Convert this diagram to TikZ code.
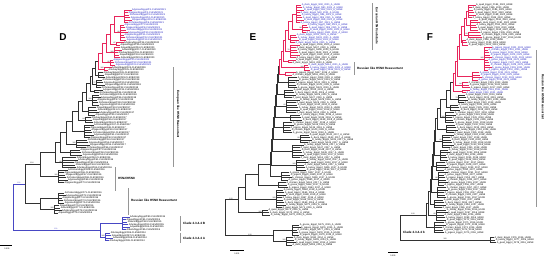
\documentclass[tikz,border=0pt]{standalone}
\usepackage{fontspec}
\setmainfont{Liberation Sans}
\usetikzlibrary{positioning}

\definecolor{redbr}{RGB}{232,38,92}
\definecolor{bluetx}{RGB}{30,30,190}
\definecolor{bluebr}{RGB}{72,72,196}
\definecolor{bargrey}{RGB}{150,150,150}
\definecolor{treegrey}{RGB}{50,50,50}

\tikzset{
  br/.style={line width=0.3pt},
  leaf/.style={anchor=west,inner sep=0.4pt,font=\fontsize{2.4}{2.6}\selectfont},
  boot/.style={inner sep=0.2pt,font=\fontsize{1.8}{2}\selectfont},
  bar/.style={draw=bargrey,line width=0.5pt},
  grp/.style={anchor=west,inner sep=1pt,font=\fontsize{3.1}{3.5}\selectfont\bfseries},
  rotgrp/.style={rotate=-90,inner sep=1pt,font=\fontsize{3.1}{3.5}\selectfont\bfseries},
  panel/.style={font=\fontsize{10}{12}\selectfont\bfseries},
  scalebar/.style={font=\fontsize{2}{2.2}\selectfont,inner sep=0.3pt},
}

% leaves of one clade, stacked from \cladetop
\newcount\leafno
\def\leafdy{2.5}
\newcommand\leaftext{}
\newcommand\startat[1]{\xdef\cladetop{#1}}
\newcommand\clade[6]{%
  \def\leafyr{#6}%
  \pgfmathsetmacro\ctop{\cladetop}%
  \pgfmathsetmacro\cbot{\cladetop+(#1-1)*\leafdy}%
  \foreach \i in {1,...,#1}{%
    \global\advance\leafno by 1
    \pgfmathsetmacro\leafy{\cladetop+(\i-1)*\leafdy}%
    \pgfmathsetmacro\tipx{#3+mod(\i*5+#1,4)*1.2}%
    \pgfmathparse{{"chicken","duck","goose","turkey","pigeon","quail"}[mod(\i+\the\leafno,6)]}%
    \let\leafhost\pgfmathresult
    \draw[br,#4] (#2,\leafy) -- (\tipx,\leafy) node[leaf,text=#5] (l\the\leafno) {\leaftext};
  }%
  \draw[br,#4] (#2,\ctop) -- (#2,\cbot);
  \pgfmathsetmacro\cladey{(\ctop+\cbot)/2}\xdef\cladey{\cladey}%
  \xdef\cladex{#2}%
  \pgfmathsetmacro\cladetop{\cbot+\leafdy}\xdef\cladetop{\cladetop}%
}
% backbone
\newcommand\firstnode{\xdef\nodex{\cladex}\xdef\nodey{\cladey}}
\newcommand\bb[3]{%
  \draw[br,#2] (\nodex,\nodey) -| (#1,\cladey) -- (\cladex,\cladey);
  \node[boot,above left] at (\cladex,\cladey) {#3};
  \pgfmathsetmacro\nodey{(\nodey+\cladey)/2}\xdef\nodey{\nodey}%
  \xdef\nodex{#1}%
}

\begin{document}
\begin{tikzpicture}[x=1pt,y=-1pt]
\useasboundingbox (0,0) rectangle (550,258);

% ---------- D
\node[panel] (D) at (63,37) {D};
\renewcommand\leaftext{A/\leafhost/Egypt/F\the\leafno-CLEVB/\leafyr}
\startat{10}
\clade{6}{124}{128}{redbr}{bluetx}{2021}\firstnode
\clade{7}{120}{124}{redbr}{bluetx}{2021}\bb{114}{redbr}{99}
\clade{2}{116}{120}{redbr}{black}{2020}\bb{110}{redbr}{87}
\clade{5}{114}{118}{redbr}{black}{2020}\bb{106}{redbr}{100}
\clade{3}{110}{113}{redbr}{bluetx}{2021}\bb{102}{redbr}{95}
\clade{2}{104}{108}{redbr}{black}{2019}\bb{98}{redbr}{100}
\clade{3}{98}{103}{treegrey}{black}{2019}\bb{95}{treegrey}{}
\clade{4}{96}{101}{treegrey}{black}{2018}\bb{92}{treegrey}{77}
\clade{2}{94}{99}{treegrey}{black}{2018}\bb{90}{treegrey}{}
\clade{5}{92}{97}{treegrey}{black}{2018}\bb{86}{treegrey}{100}
\clade{4}{88}{95}{treegrey}{black}{2017}\bb{82}{treegrey}{}
\clade{3}{85}{91}{treegrey}{black}{2017}\bb{78}{treegrey}{64}
\clade{6}{84}{90}{treegrey}{black}{2017}\bb{72}{treegrey}{}
\clade{4}{76}{86}{treegrey}{black}{2017}\bb{66}{treegrey}{100}
\clade{3}{70}{80}{treegrey}{black}{2016}\bb{60}{treegrey}{}
\clade{5}{62}{74}{treegrey}{black}{2016}\bb{55}{treegrey}{89}
\clade{6}{58}{64}{treegrey}{black}{2016}\bb{40}{treegrey}{100}
\xdef\mainy{\nodey}
\startat{193}
\clade{5}{58}{62}{treegrey}{black}{2016}\firstnode
\clade{4}{54}{58}{treegrey}{black}{2016}\bb{40}{treegrey}{100}
\draw[br,treegrey] (40,\mainy) -| (25,\nodey) -- (40,\nodey);
\pgfmathsetmacro\upy{(\mainy+\nodey)/2}
\node[boot,above] at (32,\mainy) {100};
\startat{217}
\clade{6}{122}{126}{bluebr}{black}{2015}\firstnode
\startat{233}
\clade{4}{105}{109}{bluebr}{black}{2014}\bb{100}{bluebr}{100}
\draw[br,bluebr] (25,\upy) -| (13,\nodey) -- (100,\nodey);
\node[boot,above,text=bluebr] at (19,\upy) {100};
\node[boot,above,text=bluebr] at (56,\nodey) {100};

\draw[bar] (115,167) -- (115,191);
\node[grp] (dmix) at (117,178) {H5N2/H5N8};
\draw[bar] (128,188) -- (128,215);
\node[grp] (drus) at (130,200) {Russian like H5N8 Reassortant};
\draw[bar] (173,67) -- (173,167);
\node[rotgrp] (deur) at (178,114) {European like H5N8 Reassortant};
\draw[bar] (180,216) -- (180,231);
\node[grp] (dcb) at (182,223) {Clade 2.3.4.4 B};
\draw[bar] (180,233) -- (180,243);
\node[grp] (dca) at (182,238) {Clade 2.3.4.4 A};
\draw[br] (0,245) -- (12,245);
\node[scalebar] (dsc) at (7,249) {0.005};

% ---------- E
\node[panel] (E) at (253,37) {E};
\renewcommand\leaftext{A\_\leafhost\_Egypt\_N\the\leafno\_\leafyr\_A\_H5N8}
\startat{5}
\clade{8}{296}{300}{redbr}{bluetx}{2021}\firstnode
\clade{4}{302}{306}{redbr}{bluetx}{2021}\bb{292}{redbr}{98}
\clade{4}{290}{295}{redbr}{bluetx}{2021}\bb{288}{redbr}{}
\clade{6}{290}{296}{redbr}{black}{2020}\bb{285}{redbr}{76}
\clade{2}{288}{292}{redbr}{black}{2020}\bb{283}{redbr}{}
\clade{3}{304}{308}{redbr}{bluetx}{2021}\bb{281}{redbr}{100}
\clade{2}{285}{292}{redbr}{black}{2019}\bb{279}{redbr}{}
\clade{5}{288}{295}{treegrey}{black}{2019}\bb{278}{treegrey}{}
\clade{4}{284}{292}{treegrey}{black}{2019}\bb{277}{treegrey}{}
\clade{6}{286}{296}{treegrey}{black}{2018}\bb{276}{treegrey}{62}
\clade{3}{290}{300}{treegrey}{black}{2018}\bb{275}{treegrey}{}
\clade{5}{283}{290}{treegrey}{black}{2018}\bb{274}{treegrey}{}
\clade{4}{300}{308}{treegrey}{black}{2017}\bb{273}{treegrey}{99}
\clade{6}{292}{300}{treegrey}{black}{2017}\bb{272}{treegrey}{}
\clade{5}{296}{304}{treegrey}{black}{2017}\bb{271}{treegrey}{100}
\clade{4}{281}{288}{treegrey}{black}{2017}\bb{270}{treegrey}{}
\clade{3}{278}{286}{treegrey}{black}{2017}\bb{258}{treegrey}{}
\clade{8}{276}{282}{treegrey}{black}{2016}\bb{245}{treegrey}{100}
\clade{3}{262}{268}{treegrey}{black}{2016}\bb{238}{treegrey}{100}
\xdef\mainy{\nodey}
\startat{225}
\clade{5}{292}{297}{treegrey}{black}{2015}\firstnode
\clade{4}{286}{292}{treegrey}{black}{2014}\bb{273}{treegrey}{100}
\draw[br,treegrey] (238,\mainy) -| (225,\nodey) -- (273,\nodey);
\node[boot,above] at (231,\mainy) {100};
\node[boot,above] at (250,\nodey) {100};

\draw[bar] (354,62) -- (354,75);
\node[grp] (erus) at (356,68) {Russian like H5N8 Reassortant};
\draw[bar] (372,3) -- (372,50);
\node[rotgrp] (eeur) at (377,26) {Eurasian H5N8 subclade};
\draw[br] (230,250) -- (244,250);
\node[scalebar] (esc) at (237,254) {0.001};

% ---------- F
\node[panel] (F) at (430,37) {F};
\renewcommand\leaftext{A\_\leafhost\_Egypt\_F\the\leafno\_\leafyr\_H5N8}
\startat{5}
\clade{6}{468}{472}{redbr}{black}{2020}\firstnode
\clade{5}{470}{476}{redbr}{black}{2020}\bb{466}{redbr}{}
\clade{3}{468}{480}{redbr}{black}{2019}\bb{464}{redbr}{91}
\clade{3}{462}{466}{redbr}{black}{2019}\bb{461}{redbr}{}
\clade{10}{484}{488}{redbr}{bluetx}{2021}\bb{459}{redbr}{100}
\clade{4}{472}{478}{redbr}{bluetx}{2021}\bb{457}{redbr}{}
\clade{3}{462}{468}{redbr}{black}{2020}\bb{455}{redbr}{84}
\clade{2}{462}{466}{redbr}{bluetx}{2021}\bb{453}{redbr}{}
\clade{4}{458}{464}{treegrey}{black}{2019}\bb{450}{treegrey}{73}
\clade{3}{450}{458}{treegrey}{black}{2019}\bb{446}{treegrey}{}
\clade{5}{445}{452}{treegrey}{black}{2018}\bb{440}{treegrey}{100}
\clade{4}{446}{454}{treegrey}{black}{2018}\bb{437}{treegrey}{}
\clade{6}{442}{450}{treegrey}{black}{2018}\bb{435}{treegrey}{66}
\clade{5}{440}{446}{treegrey}{black}{2018}\bb{434}{treegrey}{}
\clade{4}{436}{444}{treegrey}{black}{2017}\bb{433}{treegrey}{}
\clade{6}{438}{444}{treegrey}{black}{2017}\bb{432}{treegrey}{98}
\clade{5}{437}{444}{treegrey}{black}{2017}\bb{431}{treegrey}{}
\clade{4}{434}{442}{treegrey}{black}{2017}\bb{430}{treegrey}{}
\clade{5}{436}{444}{treegrey}{black}{2016}\bb{428}{treegrey}{95}
\clade{5}{434}{442}{treegrey}{black}{2016}\bb{426}{treegrey}{}
\xdef\mainy{\nodey}
\startat{237.5}
\clade{3}{490}{494}{treegrey}{black}{2016}
\draw[br,treegrey] (426,\mainy) -| (400,\cladey) -- (490,\cladey);
\node[boot,above] at (413,\mainy) {100};
\node[boot,above] at (445,\cladey) {100};

\draw[bar] (536,50) -- (536,207);
\node[rotgrp] (frus) at (543,97) {Russian like H5N8 Reassortant};
\node[grp] (fcb) at (402,232) {Clade 2.3.4.4 b};
\draw[br] (388,252) -- (398,252);
\node[scalebar] (fsc) at (393,255.5) {0.005};
\end{tikzpicture}
\end{document}
